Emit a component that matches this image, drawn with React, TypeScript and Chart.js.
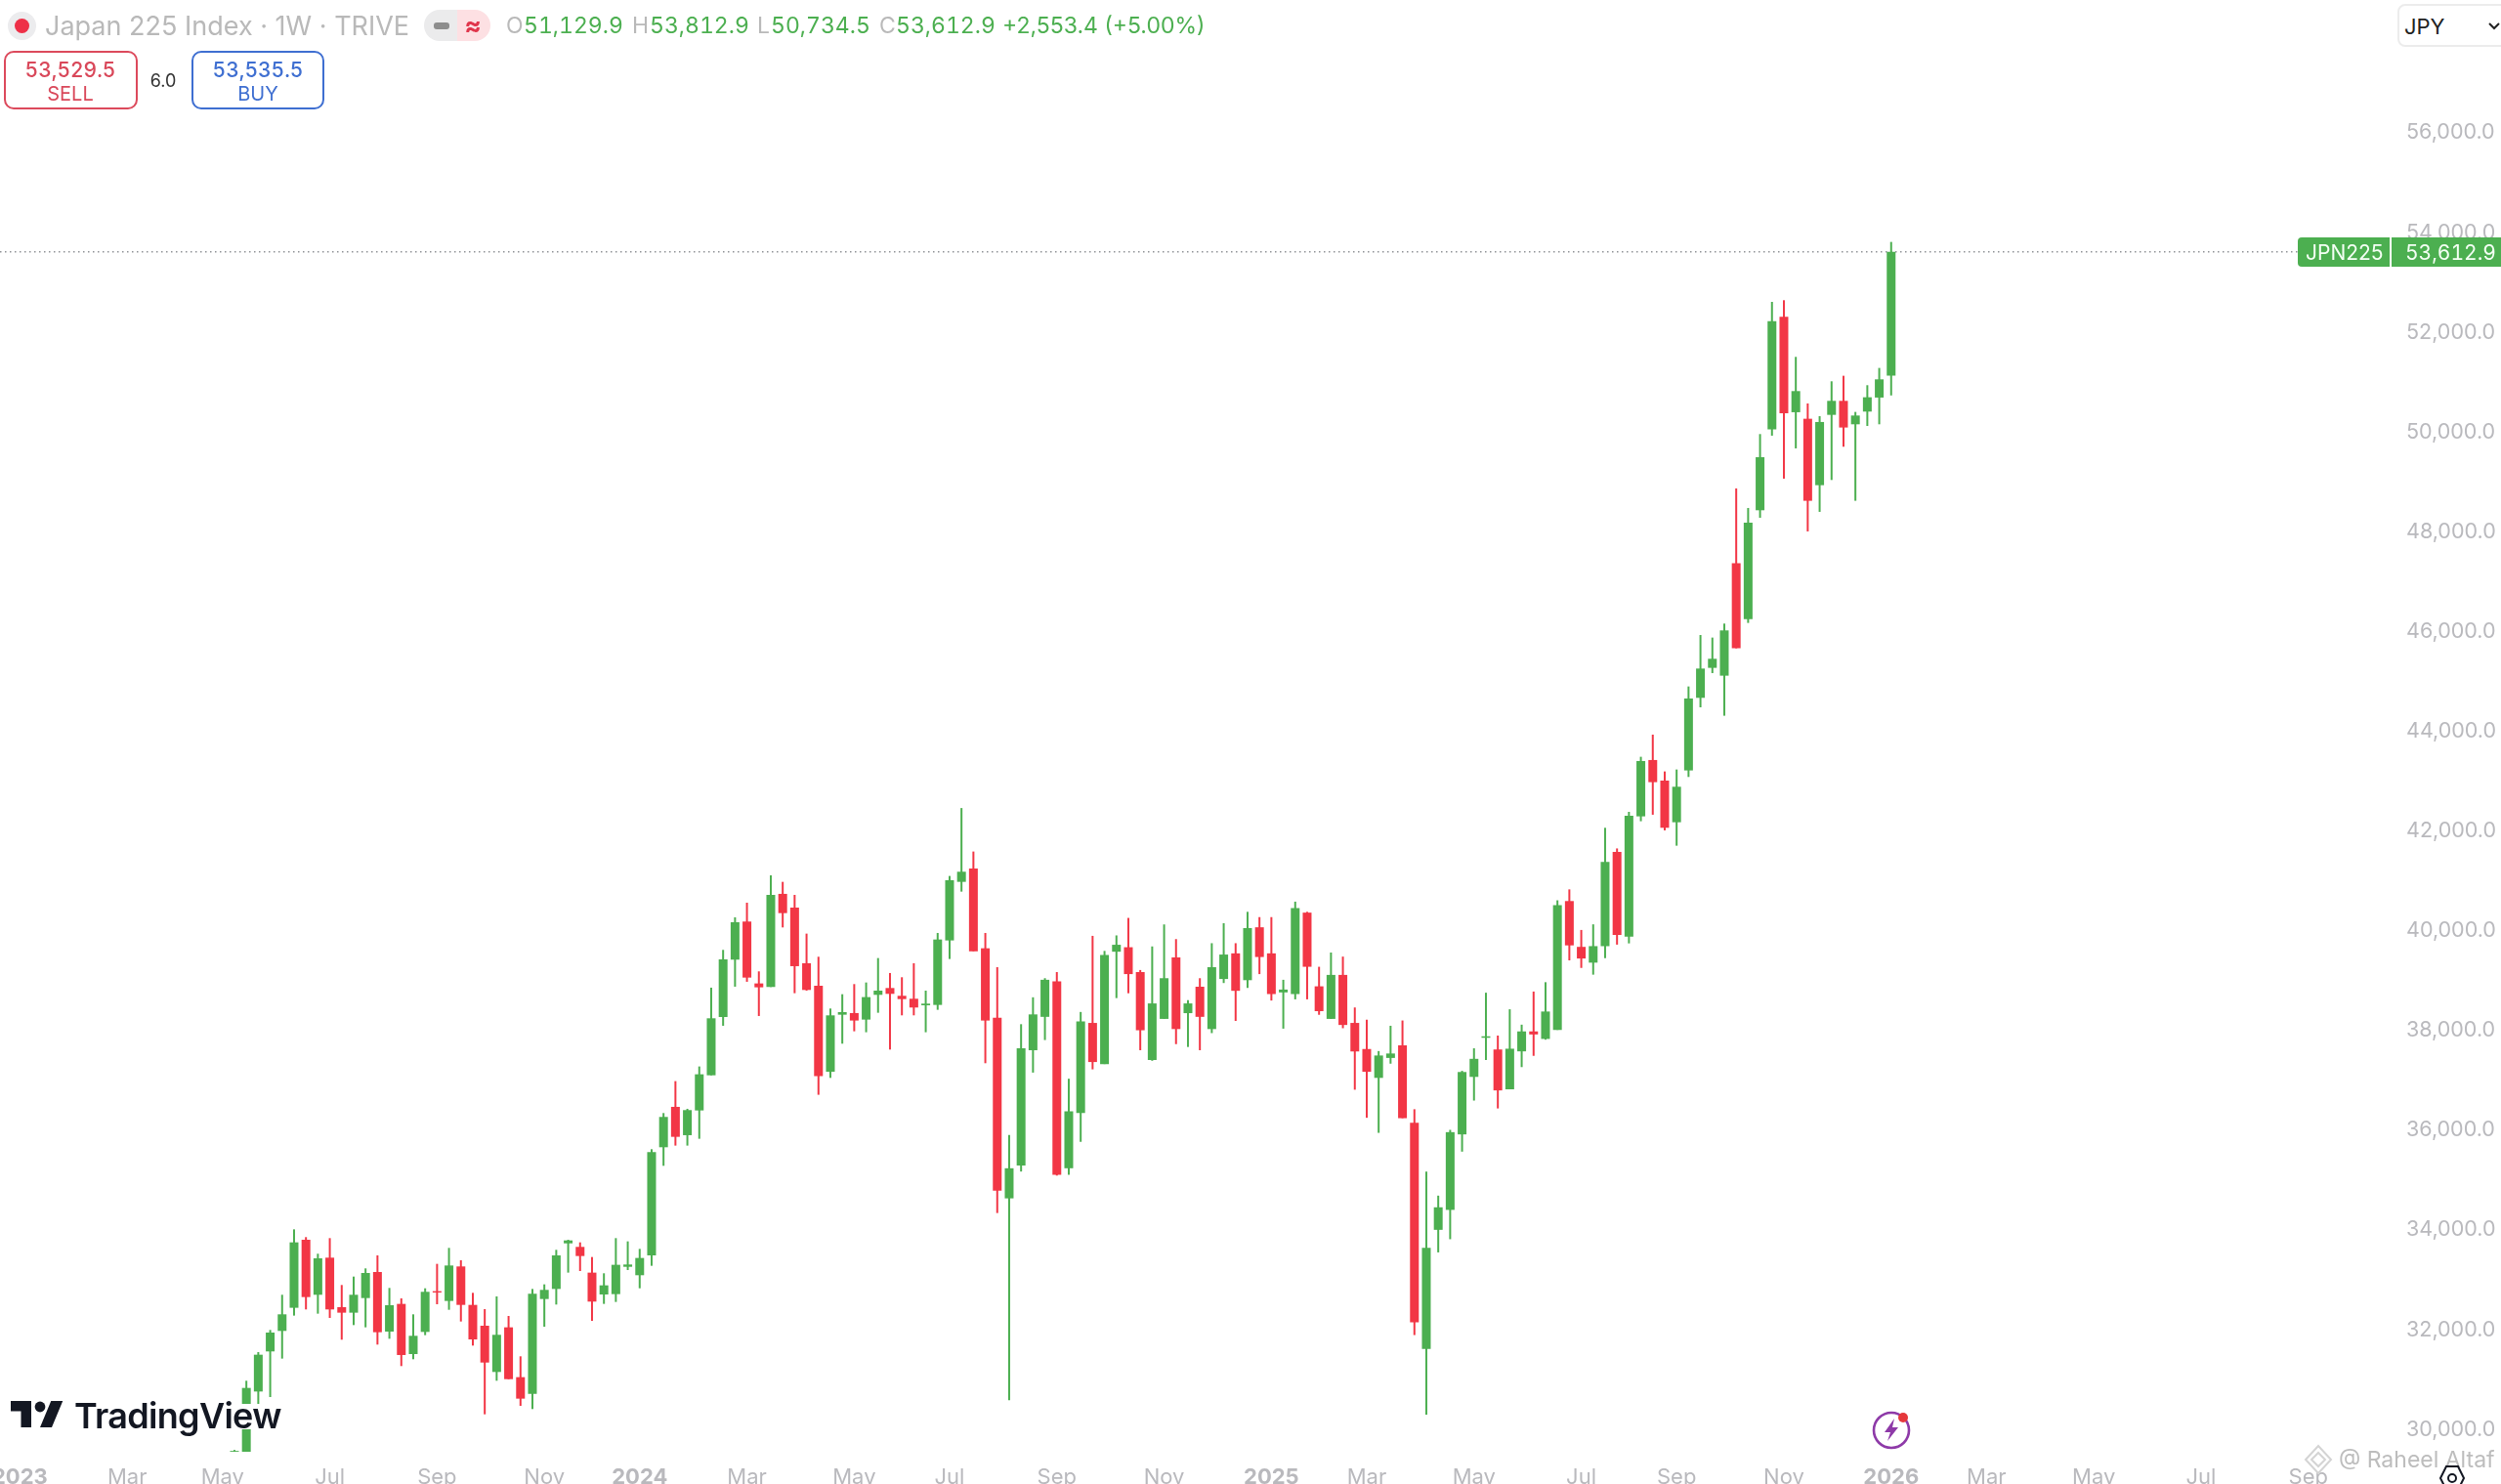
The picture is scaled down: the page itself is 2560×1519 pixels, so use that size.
import React, { useEffect, useRef } from "react";
import { Chart, registerables } from "chart.js";

Chart.register(...registerables);

const opens = [29350,29400,30761,31565,31976,32440,33804,32701,33445,32453,32342,32635,33158,31963,32518,31512,31956,32773,32577,33269,32498,32080,31153,32048,31049,30716,32616,32818,33732,33661,33145,32707,32714,33262,33093,33491,35659,36469,35901,36397,37102,38271,39421,40185,38944,38872,40740,40465,39349,38898,37174,38317,38350,38219,38715,38852,38696,38637,38506,38513,39806,40981,41249,39649,38258,34634,35295,37605,38274,38984,35238,36348,38152,37327,39580,39670,39172,37409,38233,39466,38348,38878,38029,39033,39547,39009,40070,39547,38764,38731,40364,38886,38233,39115,38152,37629,37050,37450,37703,36151,31615,34003,34403,35917,37070,37854,37620,36821,37582,37982,37831,38012,40596,39677,39361,39692,41583,39884,42294,43424,43012,42176,43215,44671,45272,45115,47368,46251,48432,50052,52311,50398,50267,48935,50345,50626,50156,50411,50692,51129.9];
const highs = [29590,30977,31551,31995,32701,34013,33857,33524,33837,32897,33066,33230,33491,32838,32629,32309,32831,33321,33641,33393,32740,32413,32668,32276,31467,32818,32910,33602,33804,33752,33458,33132,33837,33772,33621,35620,36345,36985,36430,37279,38859,39617,40270,40563,39186,41112,40981,40720,39943,39479,38441,38728,38931,38963,39453,39153,39068,39349,38800,39956,41099,42461,41589,39956,39270,35907,38127,38666,39049,39172,37033,38372,39898,39596,39907,40258,39213,39686,40127,39833,38609,39049,39751,40151,39751,40380,40274,40274,39017,40584,40380,39278,39564,39482,38462,38217,37588,38095,38201,36422,35171,34689,36008,37191,37643,38758,37899,38426,38117,38781,38969,40611,40830,40016,40129,42065,41651,42385,43489,43933,43195,43234,44899,45931,45879,46160,48870,48478,49960,52611,52644,51508,50574,50319,51018,51129,50404,50940,51286,53812.9];
const lows = [29300,29300,30487,30650,31421,32283,32407,32322,32237,31800,32093,32048,31702,31819,31271,31408,31891,32511,32400,32165,31682,30304,30977,31009,30474,30409,32061,32505,33145,33177,32178,32518,32557,33197,32831,33282,35287,35692,35692,35829,37102,38095,38879,38977,38291,38872,40067,38748,38800,36711,37050,37736,37984,37965,38356,37618,38304,38304,37965,38415,39434,40785,39590,37344,34340,30585,35172,37156,37809,35091,35107,35768,37221,37327,38650,38747,37605,37393,38233,37727,37670,37605,37948,38952,38192,38854,39131,38601,38037,38625,38625,38315,38233,38046,36813,36250,35948,37335,36242,31893,30296,33551,33815,35571,36595,37409,36437,36821,37266,37492,37816,38012,39406,39255,39120,39451,39722,39747,42196,42327,42013,41706,43084,44481,45167,44312,45664,46173,48282,49928,49066,49673,48008,48400,49039,49706,48622,50123,50156,50734.5];
const closes = [29570,30833,31499,31943,32309,33752,32655,33432,32407,32342,32701,33138,31950,32492,31493,31878,32760,32746,33288,32498,31806,31342,31898,31009,30618,32720,32799,33491,33791,33478,32564,32890,33302,33308,33439,35560,36267,35868,36404,37122,38245,39427,40172,39061,38866,40720,40354,39290,38813,37083,38304,38369,38200,38670,38800,38735,38630,38461,38539,39825,41014,41184,39590,38200,34789,35238,37646,38323,39017,35107,36380,38184,37368,39515,39719,39131,38005,38543,39049,38029,38543,38274,39270,39523,38796,40054,39474,38731,38821,40453,39278,38388,39115,38111,37580,37172,37499,37539,36242,32150,33642,34455,35962,37168,37432,37884,36799,37635,37982,37921,38381,40513,39707,39444,39692,41380,39918,42307,43404,42980,42065,42888,44658,45258,45454,46023,45664,48184,49497,52226,50378,50822,48622,50202,50626,50091,50332,50698,51057,53612.9];

const xTickIndexes = [-18,-9,-1,8,17,26,34,43,52,60,69,78,87,95,104,113,121,130,139,147,156,165,174];
const xTickLabels = ["2023","Mar","May","Jul","Sep","Nov","2024","Mar","May","Jul","Sep","Nov","2025","Mar","May","Jul","Sep","Nov","2026","Mar","May","Jul","Sep"];
const yTickValues = [30000,32000,34000,36000,38000,40000,42000,44000,46000,48000,50000,52000,54000,56000];
const lastPrice = 53612.9;

const GREEN = "#4caf50";
const RED = "#f23645";
const AXIS = "#b9b9bd";
const FONT = "Inter, 'Noto Sans', sans-serif";

const abs = (left: number, top: number, extra: React.CSSProperties = {}): React.CSSProperties => ({
  position: "absolute",
  left,
  top,
  fontFamily: FONT,
  whiteSpace: "nowrap",
  lineHeight: 1,
  ...extra,
});

function T({ x, y, size, color, weight, children, center, tab, spacing }: any) {
  return (
    <div
      style={abs(x, y - size / 2, {
        fontSize: size,
        color,
        fontWeight: weight ?? 400,
        transform: center ? "translateX(-50%)" : undefined,
        fontVariantNumeric: tab ? "tabular-nums" : undefined,
        letterSpacing: spacing,
      })}
    >
      {children}
    </div>
  );
}

export default function App() {
  const ref = useRef<HTMLCanvasElement | null>(null);

  useEffect(() => {
    const colors = closes.map((c, i) => (c >= opens[i] ? GREEN : RED));
    const chart = new Chart(ref.current as HTMLCanvasElement, {
      type: "bar",
      data: {
        datasets: [
          {
            type: "line",
            data: [
              { x: -19.67, y: lastPrice },
              { x: 173.1, y: lastPrice },
            ],
            borderColor: "#8f9296",
            borderWidth: 1.5,
            borderDash: [1.5, 3.5],
            pointRadius: 0,
            order: 3,
          },
          {
            data: highs.map((h, i) => ({ x: i, y: [lows[i], h] })),
            backgroundColor: colors,
            barThickness: 2,
            grouped: false,
            inflateAmount: 0,
            order: 2,
          },
          {
            data: opens.map((o, i) => ({ x: i, y: [o, closes[i]] })),
            backgroundColor: colors,
            barThickness: 9,
            grouped: false,
            inflateAmount: 0,
            order: 1,
          },
        ] as any,
      },
      options: {
        animation: false,
        responsive: false,
        devicePixelRatio: 1,
        layout: { padding: 0 },
        plugins: { legend: { display: false }, tooltip: { enabled: false } },
        scales: {
          x: {
            type: "linear",
            offset: false,
            min: -19.67,
            max: 181.56,
            grid: { display: false, offset: false },
            border: { display: false },
            afterBuildTicks: (s: any) => {
              s.ticks = xTickIndexes.map((value) => ({ value }));
            },
            afterFit: (s: any) => {
              s.height = 33;
              s.paddingLeft = 0;
              s.paddingRight = 0;
            },
            ticks: {
              autoSkip: false,
              maxRotation: 0,
              minRotation: 0,
              padding: 5,
              color: AXIS,
              callback: (v: any) => xTickLabels[xTickIndexes.indexOf(Number(v))] ?? "",
              font: (ctx: any) => {
                const label = xTickLabels[xTickIndexes.indexOf(ctx.tick?.value)] ?? "";
                return { family: FONT, size: 22, weight: /^\d/.test(label) ? "bold" : "normal" };
              },
            },
          },
          y: {
            type: "linear",
            position: "right",
            min: 29553,
            max: 58664,
            grid: { display: false },
            border: { display: false },
            afterBuildTicks: (s: any) => {
              s.ticks = yTickValues.map((value) => ({ value }));
            },
            afterFit: (s: any) => {
              s.width = 105;
              s.paddingTop = 0;
              s.paddingBottom = 0;
            },
            ticks: {
              crossAlign: "near",
              padding: 0,
              color: AXIS,
              font: { family: FONT, size: 21.5 },
              callback: (v: any) =>
                Number(v).toLocaleString("en-US", { minimumFractionDigits: 1, maximumFractionDigits: 1 }),
            },
          },
        },
      } as any,
    });
    return () => chart.destroy();
  }, []);

  return (
    <div style={{ position: "fixed", left: 0, top: 0, width: 2560, height: 1519, overflow: "hidden", background: "#fff" }}>
      <canvas ref={ref} width={2560} height={1519} style={{ display: "block" }} />

      {/* symbol header */}
      <div style={abs(8, 12, { width: 29, height: 29, borderRadius: "50%", background: "#ececee" })} />
      <div style={abs(15, 19, { width: 15, height: 15, borderRadius: "50%", background: "#ee3048" })} />
      <T x={46} y={26} size={27} color="#b9b9b9">Japan 225 Index · 1W · TRIVE</T>

      <div style={abs(434, 10, { width: 34, height: 32, background: "#ebebec", borderRadius: "16px 0 0 16px" })} />
      <div style={abs(468, 10, { width: 34, height: 32, background: "#fde0e3", borderRadius: "0 16px 16px 0" })} />
      <div style={abs(444, 23, { width: 16, height: 7, background: "#8d8d8d", borderRadius: 3 })} />
      <T x={484} y={26} size={26} color="#e0364c" weight={700} center>≈</T>

      <T x={518} y={26} size={23} color="#b9b9b9">O</T>
      <T x={536} y={26} size={23} color={GREEN} tab>51,129.9</T>
      <T x={647} y={26} size={23} color="#b9b9b9">H</T>
      <T x={665} y={26} size={23} color={GREEN} tab>53,812.9</T>
      <T x={775} y={26} size={23} color="#b9b9b9">L</T>
      <T x={789} y={26} size={23} color={GREEN} tab>50,734.5</T>
      <T x={900} y={26} size={23} color="#b9b9b9">C</T>
      <T x={917} y={26} size={23} color={GREEN} tab>53,612.9</T>
      <T x={1026} y={26} size={23} color={GREEN}>+2,553.4 (+5.00%)</T>

      {/* sell / buy */}
      <div style={abs(4, 52, { width: 137, height: 60, boxSizing: "border-box", border: "2px solid #dc4a5c", borderRadius: 10 })} />
      <T x={72} y={71} size={21} color="#d9485a" weight={500} center tab>53,529.5</T>
      <T x={72} y={96} size={20} color="#d9485a" center>SELL</T>
      <T x={167} y={83} size={18} color="#333" center>6.0</T>
      <div style={abs(196, 52, { width: 136, height: 60, boxSizing: "border-box", border: "2px solid #3f6fd1", borderRadius: 10 })} />
      <T x={264} y={71} size={21} color="#3f6fd1" weight={500} center tab>53,535.5</T>
      <T x={264} y={96} size={20} color="#3f6fd1" center>BUY</T>

      {/* currency box */}
      <div style={abs(2454, 4, { width: 120, height: 44, boxSizing: "border-box", border: "2px solid #ececec", borderRadius: 8, background: "#fff" })} />
      <T x={2461} y={27} size={22} color="#222">JPY</T>
      <svg style={{ position: "absolute", left: 2546, top: 22 }} width="14" height="10" viewBox="0 0 14 10">
        <path d="M2 2 L7 7 L12 2" fill="none" stroke="#222" strokeWidth="2" />
      </svg>

      {/* last price badge */}
      <div style={abs(2352, 243, { width: 94, height: 30, background: GREEN, borderRadius: "4px 0 0 4px" })} />
      <div style={abs(2448, 243, { width: 112, height: 30, background: GREEN })} />
      <T x={2360} y={258} size={21} color="#f4fff4">JPN225</T>
      <T x={2462} y={258} size={21} color="#f4fff4" tab>53,612.9</T>

      {/* logo */}
      <div style={abs(8, 1437, { width: 284, height: 26, background: "#fff" })} />
      <svg style={{ position: "absolute", left: 11, top: 1434 }} width="54" height="27" viewBox="0 0 36 18">
        <path d="M14 18H7V7H0V0h14v18zM28 18h-8L27.5 0h8L28 18z" fill="#131722" />
        <circle cx="20" cy="4" r="3.6" fill="#131722" />
      </svg>
      <T x={76} y={1449} size={36} color="#131722" weight={600} spacing={-0.7}>TradingView</T>

      {/* lightning icon */}
      <svg style={{ position: "absolute", left: 1912, top: 1440 }} width="48" height="48" viewBox="0 0 48 48">
        <circle cx="24" cy="24" r="18" fill="none" stroke="#8e3aa8" strokeWidth="2.6" />
        <path d="M27 12 L17 26 L23 26 L20 35 L31 21 L25 21 Z" fill="#8e3aa8" />
        <circle cx="36" cy="11" r="5" fill="#e5383b" />
      </svg>

      {/* watermark */}
      <svg style={{ position: "absolute", left: 2358, top: 1478 }} width="30" height="32" viewBox="0 0 30 32">
        <path d="M15 2 L28 16 L15 30 L2 16 Z M15 9 L22 16 L15 23 L8 16 Z" fill="none" stroke="#d4d4d4" strokeWidth="2" />
      </svg>
      <T x={2394} y={1494} size={23} color="#bdbdbd">@ Raheel Altaf</T>

      {/* settings hexagon */}
      <svg style={{ position: "absolute", left: 2496, top: 1498 }} width="28" height="30" viewBox="0 0 28 30">
        <path d="M8 3 H20 L26 15 L20 27 H8 L2 15 Z" fill="none" stroke="#131722" strokeWidth="2" />
        <circle cx="14" cy="15" r="4" fill="none" stroke="#131722" strokeWidth="2" />
      </svg>
    </div>
  );
}
